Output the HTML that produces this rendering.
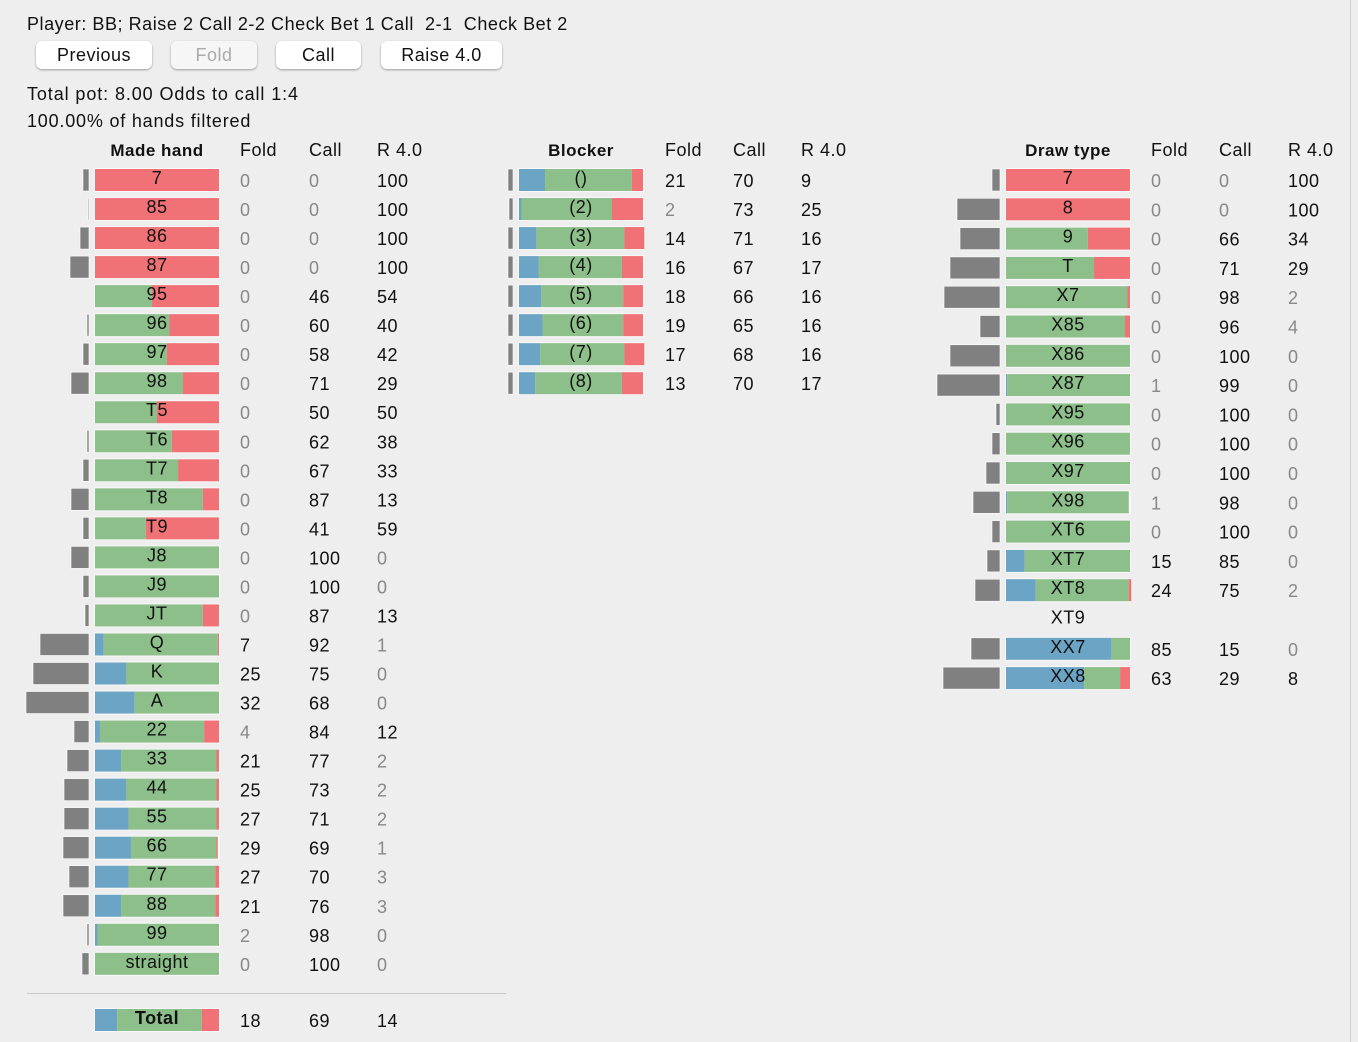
<!DOCTYPE html>
<html><head><meta charset="utf-8">
<style>
body{margin:0;background:#eeeeee;width:1358px;height:1042px;overflow:hidden;font-family:"Liberation Sans",sans-serif;}
.btn{position:absolute;top:41px;height:28px;background:#fff;border-radius:6px;box-shadow:0 1px 2px rgba(0,0,0,.35);font-size:18px;text-align:center;line-height:28px;color:#111;letter-spacing:0.5px;}
.t{position:absolute;left:27px;font-size:18px;color:#111;letter-spacing:0.6px;}
</style></head><body>
<div class="t" style="top:14px;letter-spacing:0.55px">Player: BB; Raise 2 Call 2-2 Check Bet 1 Call &nbsp;2-1 &nbsp;Check Bet 2</div>
<div class="btn" style="left:36px;width:116px">Previous</div>
<div class="btn" style="left:171px;width:86px;color:#aaa;background:#f6f6f6">Fold</div>
<div class="btn" style="left:276px;width:85px">Call</div>
<div class="btn" style="left:381px;width:121px">Raise 4.0</div>
<div class="t" style="top:84px;letter-spacing:0.9px">Total pot: 8.00 Odds to call 1:4</div>
<div class="t" style="top:111px;letter-spacing:0.8px">100.00% of hands filtered</div>
<div style="position:absolute;left:1350px;top:0;width:1px;height:1042px;background:#d0d0d0"></div>
<svg id="chart" width="1358" height="1042" style="position:absolute;left:0;top:0"></svg>
<script>
const madeLabels=["7","85","86","87","95","96","97","98","T5","T6","T7","T8","T9","J8","J9","JT","Q","K","A","22","33","44","55","66","77","88","99","straight"];
const madeFold=[0,0,0,0,0,0,0,0,0,0,0,0,0,0,0,0,7,25,32,4,21,25,27,29,27,21,2,0];
const madeCall=[0,0,0,0,46,60,58,71,50,62,67,87,41,100,100,87,92,75,68,84,77,73,71,69,70,76,98,100];
const madeRaise=[100,100,100,100,54,40,42,29,50,38,33,13,59,0,0,13,1,0,0,12,2,2,2,1,3,3,0,0];
const madeWeight=[6,1,9,19,0,2,6,18,0,2,6,18,6,18,6,4,49,56,63,15,22,25,25,26,20,26,2,7];
const blockLabels=["()","(2)","(3)","(4)","(5)","(6)","(7)","(8)"];
const blockFold=[21,2,14,16,18,19,17,13];
const blockCall=[70,73,71,67,66,65,68,70];
const blockRaise=[9,25,16,17,16,16,16,17];
const blockWeight=[5,4,5,5,5,5,5,5];
const drawLabels=["7","8","9","T","X7","X85","X86","X87","X95","X96","X97","X98","XT6","XT7","XT8","XT9","XX7","XX8"];
const drawFold=[0,0,0,0,0,0,0,1,0,0,0,1,0,15,24,null,85,63];
const drawCall=[0,0,66,71,98,96,100,99,100,100,100,98,100,85,75,null,15,29];
const drawRaise=[100,100,34,29,2,4,0,0,0,0,0,0,0,0,2,null,0,8];
const drawWeight=[8,43,40,50,56,20,50,63,4,8,14,27,8,13,25,null,29,57];
const totalVals=[18,69,14];

const svg=document.getElementById('chart');
const NS='http://www.w3.org/2000/svg';
const BAR_W=124, PITCH=29.03, Y0=180;
function yOf(i){return Y0+i*PITCH;}
function mk(tag,attrs,name){const e=document.createElementNS(NS,tag);for(const k in attrs)e.setAttribute(k,attrs[k]);


svg.appendChild(e);return e;}
function txt(x,y,s,name,opt){const e=mk('text',{x:x,y:y,'font-size':opt&&opt.size||18,'font-family':'Liberation Sans, sans-serif',fill:opt&&opt.fill||'#111','font-weight':opt&&opt.bold?'bold':'normal','text-anchor':opt&&opt.anchor||'start','letter-spacing':'0.5'},name);e.textContent=s;return e;}
function numFill(v){return v<5?'#888':'#111';}
function section(o){
  txt(o.barX+BAR_W/2,156,o.title,'header-'+o.key,{bold:true,anchor:'middle',size:17});
  txt(o.cols[0],156,'Fold','header-fold-'+o.key);
  txt(o.cols[1],156,'Call','header-call-'+o.key);
  txt(o.cols[2],156,'R 4.0','header-raise-'+o.key);
  o.labels.forEach((lab,i)=>{
    const cy=o.yf(i);
    if(o.fold[i]!=null){
      const w=o.weight[i];
      if(w>0) mk('rect',{x:o.barX-6-w,y:cy-11,width:w,height:22,fill:'#808080',stroke:'#fff','stroke-width':0.6},'weight-bar-'+o.key);
      const sx=v=>v/100*BAR_W;
      let x=o.barX;
      const segs=[[o.fold[i],'#6ba4c5'],[o.call[i],'#8dbf8a'],[o.raise[i],'#f07176']];
      mk('rect',{x:o.barX-1,y:cy-12,width:BAR_W+2,height:24,fill:'#f8f8f8'},'bar-frame-'+o.key);
      segs.forEach(s=>{const w2=sx(s[0]);if(w2>0){mk('rect',{x:x,y:cy-11,width:w2,height:22,fill:s[1]},'bar-segment-'+o.key);}x+=w2;});
      [o.fold[i],o.call[i],o.raise[i]].forEach((v,j)=>txt(o.cols[j],cy+7,String(v),'value-'+o.key,{fill:numFill(v)}));
    }
    txt(o.barX+BAR_W/2,cy+4,lab,'row-label-'+o.key,{anchor:'middle',size:18});
  });
}
section({key:'made',title:'Made hand',barX:95,cols:[240,309,377],labels:madeLabels,fold:madeFold,call:madeCall,raise:madeRaise,weight:madeWeight,yf:yOf});
section({key:'blocker',title:'Blocker',barX:519,cols:[665,733,801],labels:blockLabels,fold:blockFold,call:blockCall,raise:blockRaise,weight:blockWeight,yf:yOf});
section({key:'draw',title:'Draw type',barX:1006,cols:[1151,1219,1288],labels:drawLabels,fold:drawFold,call:drawCall,raise:drawRaise,weight:drawWeight,yf:i=>Y0+i*29.3});
mk('line',{x1:27,y1:993.5,x2:506,y2:993.5,stroke:'#c8c8c8','stroke-width':1},'total-separator');
(function(){const cy=1020;let x=95;
mk('rect',{x:94,y:cy-12,width:BAR_W+2,height:24,fill:'#f8f8f8'},'total-bar-frame');
[[totalVals[0],'#6ba4c5'],[totalVals[1],'#8dbf8a'],[totalVals[2],'#f07176']].forEach(s=>{const w=s[0]/101*BAR_W;mk('rect',{x:x,y:cy-11,width:w,height:22,fill:s[1]},'total-bar-segment');x+=w;});
txt(157,cy+4,'Total','total-label',{bold:true,anchor:'middle'});
[240,309,377].forEach((cx,j)=>txt(cx,cy+7,String(totalVals[j]),'total-value',{fill:numFill(totalVals[j])}));
})();
</script>
</body></html>
